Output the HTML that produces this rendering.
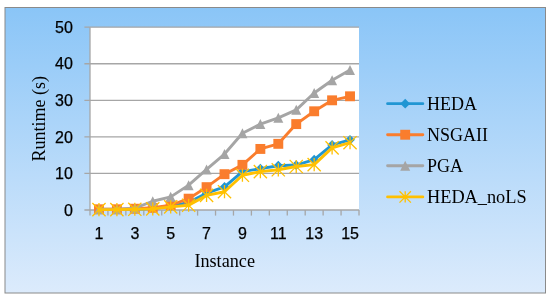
<!DOCTYPE html>
<html><head><meta charset="utf-8"><title>Runtime chart</title>
<style>
html,body{margin:0;padding:0;background:#fff;}
body{width:550px;height:300px;overflow:hidden;}
svg{display:block;}
.ax{font-family:"Liberation Sans",sans-serif;font-size:16px;fill:#000;stroke:#000;stroke-width:0.25px;}
.tt{font-family:"Liberation Serif",serif;font-size:18px;fill:#000;}
</style></head><body>
<svg width="550" height="300" viewBox="0 0 550 300">
<defs><linearGradient id="bg" x1="0" y1="0" x2="0" y2="1"><stop offset="0" stop-color="#8AC5F7"/><stop offset="1" stop-color="#DCEBFC"/></linearGradient></defs>
<rect width="550" height="300" fill="#fff"/>
<rect x="5" y="7.5" width="540.5" height="285.5" fill="url(#bg)" stroke="#8a8a8a" stroke-width="1"/>
<rect x="90.0" y="27.2" width="269.0" height="182.8" fill="#fff"/>
<line x1="84.4" y1="210.00" x2="359.0" y2="210.00" stroke="#A6A6A6" stroke-width="1.3"/>
<line x1="84.4" y1="173.44" x2="359.0" y2="173.44" stroke="#A6A6A6" stroke-width="1.3"/>
<line x1="84.4" y1="136.88" x2="359.0" y2="136.88" stroke="#A6A6A6" stroke-width="1.3"/>
<line x1="84.4" y1="100.32" x2="359.0" y2="100.32" stroke="#A6A6A6" stroke-width="1.3"/>
<line x1="84.4" y1="63.76" x2="359.0" y2="63.76" stroke="#A6A6A6" stroke-width="1.3"/>
<line x1="84.4" y1="27.20" x2="359.0" y2="27.20" stroke="#A6A6A6" stroke-width="1.3"/>
<line x1="90.0" y1="27.2" x2="90.0" y2="210.0" stroke="#A6A6A6" stroke-width="1.3"/>
<line x1="90.00" y1="210.0" x2="90.00" y2="215.6" stroke="#A6A6A6" stroke-width="1.3"/>
<line x1="107.93" y1="210.0" x2="107.93" y2="215.6" stroke="#A6A6A6" stroke-width="1.3"/>
<line x1="125.87" y1="210.0" x2="125.87" y2="215.6" stroke="#A6A6A6" stroke-width="1.3"/>
<line x1="143.80" y1="210.0" x2="143.80" y2="215.6" stroke="#A6A6A6" stroke-width="1.3"/>
<line x1="161.73" y1="210.0" x2="161.73" y2="215.6" stroke="#A6A6A6" stroke-width="1.3"/>
<line x1="179.67" y1="210.0" x2="179.67" y2="215.6" stroke="#A6A6A6" stroke-width="1.3"/>
<line x1="197.60" y1="210.0" x2="197.60" y2="215.6" stroke="#A6A6A6" stroke-width="1.3"/>
<line x1="215.53" y1="210.0" x2="215.53" y2="215.6" stroke="#A6A6A6" stroke-width="1.3"/>
<line x1="233.47" y1="210.0" x2="233.47" y2="215.6" stroke="#A6A6A6" stroke-width="1.3"/>
<line x1="251.40" y1="210.0" x2="251.40" y2="215.6" stroke="#A6A6A6" stroke-width="1.3"/>
<line x1="269.33" y1="210.0" x2="269.33" y2="215.6" stroke="#A6A6A6" stroke-width="1.3"/>
<line x1="287.27" y1="210.0" x2="287.27" y2="215.6" stroke="#A6A6A6" stroke-width="1.3"/>
<line x1="305.20" y1="210.0" x2="305.20" y2="215.6" stroke="#A6A6A6" stroke-width="1.3"/>
<line x1="323.13" y1="210.0" x2="323.13" y2="215.6" stroke="#A6A6A6" stroke-width="1.3"/>
<line x1="341.07" y1="210.0" x2="341.07" y2="215.6" stroke="#A6A6A6" stroke-width="1.3"/>
<line x1="359.00" y1="210.0" x2="359.00" y2="215.6" stroke="#A6A6A6" stroke-width="1.3"/>
<text x="72.8" y="215.70" text-anchor="end" class="ax">0</text>
<text x="72.8" y="179.14" text-anchor="end" class="ax">10</text>
<text x="72.8" y="142.58" text-anchor="end" class="ax">20</text>
<text x="72.8" y="106.02" text-anchor="end" class="ax">30</text>
<text x="72.8" y="69.46" text-anchor="end" class="ax">40</text>
<text x="72.8" y="32.90" text-anchor="end" class="ax">50</text>
<text x="98.97" y="238.7" text-anchor="middle" class="ax">1</text>
<text x="134.83" y="238.7" text-anchor="middle" class="ax">3</text>
<text x="170.70" y="238.7" text-anchor="middle" class="ax">5</text>
<text x="206.57" y="238.7" text-anchor="middle" class="ax">7</text>
<text x="242.43" y="238.7" text-anchor="middle" class="ax">9</text>
<text x="278.30" y="238.7" text-anchor="middle" class="ax">11</text>
<text x="314.17" y="238.7" text-anchor="middle" class="ax">13</text>
<text x="350.03" y="238.7" text-anchor="middle" class="ax">15</text>
<polyline points="98.97,209.63 116.90,209.63 134.83,209.27 152.77,208.54 170.70,206.34 188.63,202.32 206.57,193.18 224.50,186.97 242.43,171.61 260.37,168.69 278.30,165.76 296.23,165.03 314.17,159.73 332.10,144.92 350.03,139.80" fill="none" stroke="#2196D3" stroke-width="2.9" stroke-linejoin="round" stroke-linecap="round"/>
<path d="M94.07,209.63L98.97,204.73L103.87,209.63L98.97,214.53Z" fill="#2196D3"/>
<path d="M112.00,209.63L116.90,204.73L121.80,209.63L116.90,214.53Z" fill="#2196D3"/>
<path d="M129.93,209.27L134.83,204.37L139.73,209.27L134.83,214.17Z" fill="#2196D3"/>
<path d="M147.87,208.54L152.77,203.64L157.67,208.54L152.77,213.44Z" fill="#2196D3"/>
<path d="M165.80,206.34L170.70,201.44L175.60,206.34L170.70,211.24Z" fill="#2196D3"/>
<path d="M183.73,202.32L188.63,197.42L193.53,202.32L188.63,207.22Z" fill="#2196D3"/>
<path d="M201.67,193.18L206.57,188.28L211.47,193.18L206.57,198.08Z" fill="#2196D3"/>
<path d="M219.60,186.97L224.50,182.07L229.40,186.97L224.50,191.87Z" fill="#2196D3"/>
<path d="M237.53,171.61L242.43,166.71L247.33,171.61L242.43,176.51Z" fill="#2196D3"/>
<path d="M255.47,168.69L260.37,163.79L265.27,168.69L260.37,173.59Z" fill="#2196D3"/>
<path d="M273.40,165.76L278.30,160.86L283.20,165.76L278.30,170.66Z" fill="#2196D3"/>
<path d="M291.33,165.03L296.23,160.13L301.13,165.03L296.23,169.93Z" fill="#2196D3"/>
<path d="M309.27,159.73L314.17,154.83L319.07,159.73L314.17,164.63Z" fill="#2196D3"/>
<path d="M327.20,144.92L332.10,140.02L337.00,144.92L332.10,149.82Z" fill="#2196D3"/>
<path d="M345.13,139.80L350.03,134.90L354.93,139.80L350.03,144.70Z" fill="#2196D3"/>
<polyline points="98.97,209.27 116.90,209.27 134.83,208.72 152.77,207.81 170.70,205.25 188.63,198.67 206.57,187.15 224.50,174.17 242.43,164.85 260.37,148.94 278.30,143.83 296.23,124.08 314.17,111.29 332.10,100.32 350.03,96.30" fill="none" stroke="#FA7D2D" stroke-width="2.9" stroke-linejoin="round" stroke-linecap="round"/>
<rect x="94.02" y="204.32" width="9.9" height="9.9" fill="#FA7D2D"/>
<rect x="111.95" y="204.32" width="9.9" height="9.9" fill="#FA7D2D"/>
<rect x="129.88" y="203.77" width="9.9" height="9.9" fill="#FA7D2D"/>
<rect x="147.82" y="202.86" width="9.9" height="9.9" fill="#FA7D2D"/>
<rect x="165.75" y="200.30" width="9.9" height="9.9" fill="#FA7D2D"/>
<rect x="183.68" y="193.72" width="9.9" height="9.9" fill="#FA7D2D"/>
<rect x="201.62" y="182.20" width="9.9" height="9.9" fill="#FA7D2D"/>
<rect x="219.55" y="169.22" width="9.9" height="9.9" fill="#FA7D2D"/>
<rect x="237.48" y="159.90" width="9.9" height="9.9" fill="#FA7D2D"/>
<rect x="255.42" y="143.99" width="9.9" height="9.9" fill="#FA7D2D"/>
<rect x="273.35" y="138.88" width="9.9" height="9.9" fill="#FA7D2D"/>
<rect x="291.28" y="119.13" width="9.9" height="9.9" fill="#FA7D2D"/>
<rect x="309.22" y="106.34" width="9.9" height="9.9" fill="#FA7D2D"/>
<rect x="327.15" y="95.37" width="9.9" height="9.9" fill="#FA7D2D"/>
<rect x="345.08" y="91.35" width="9.9" height="9.9" fill="#FA7D2D"/>
<polyline points="98.97,209.27 116.90,209.27 134.83,208.17 152.77,201.23 170.70,196.84 188.63,185.14 206.57,169.42 224.50,154.06 242.43,133.22 260.37,124.08 278.30,117.87 296.23,109.83 314.17,93.01 332.10,80.21 350.03,69.98" fill="none" stroke="#A5A5A5" stroke-width="2.9" stroke-linejoin="round" stroke-linecap="round"/>
<path d="M98.97,204.27L103.97,214.27L93.97,214.27Z" fill="#A5A5A5"/>
<path d="M116.90,204.27L121.90,214.27L111.90,214.27Z" fill="#A5A5A5"/>
<path d="M134.83,203.17L139.83,213.17L129.83,213.17Z" fill="#A5A5A5"/>
<path d="M152.77,196.23L157.77,206.23L147.77,206.23Z" fill="#A5A5A5"/>
<path d="M170.70,191.84L175.70,201.84L165.70,201.84Z" fill="#A5A5A5"/>
<path d="M188.63,180.14L193.63,190.14L183.63,190.14Z" fill="#A5A5A5"/>
<path d="M206.57,164.42L211.57,174.42L201.57,174.42Z" fill="#A5A5A5"/>
<path d="M224.50,149.06L229.50,159.06L219.50,159.06Z" fill="#A5A5A5"/>
<path d="M242.43,128.22L247.43,138.22L237.43,138.22Z" fill="#A5A5A5"/>
<path d="M260.37,119.08L265.37,129.08L255.37,129.08Z" fill="#A5A5A5"/>
<path d="M278.30,112.87L283.30,122.87L273.30,122.87Z" fill="#A5A5A5"/>
<path d="M296.23,104.83L301.23,114.83L291.23,114.83Z" fill="#A5A5A5"/>
<path d="M314.17,88.01L319.17,98.01L309.17,98.01Z" fill="#A5A5A5"/>
<path d="M332.10,75.21L337.10,85.21L327.10,85.21Z" fill="#A5A5A5"/>
<path d="M350.03,64.98L355.03,74.98L345.03,74.98Z" fill="#A5A5A5"/>
<polyline points="98.97,209.63 116.90,209.63 134.83,209.27 152.77,208.90 170.70,206.89 188.63,205.25 206.57,195.38 224.50,191.72 242.43,175.27 260.37,171.61 278.30,169.78 296.23,166.49 314.17,164.67 332.10,147.85 350.03,142.73" fill="none" stroke="#FFC000" stroke-width="2.9" stroke-linejoin="round" stroke-linecap="round"/>
<path d="M92.37,203.03L105.57,216.23M92.37,216.23L105.57,203.03M98.97,203.03L98.97,216.23" stroke="#FFC000" stroke-width="1.3" fill="none"/>
<path d="M110.30,203.03L123.50,216.23M110.30,216.23L123.50,203.03M116.90,203.03L116.90,216.23" stroke="#FFC000" stroke-width="1.3" fill="none"/>
<path d="M128.23,202.67L141.43,215.87M128.23,215.87L141.43,202.67M134.83,202.67L134.83,215.87" stroke="#FFC000" stroke-width="1.3" fill="none"/>
<path d="M146.17,202.30L159.37,215.50M146.17,215.50L159.37,202.30M152.77,202.30L152.77,215.50" stroke="#FFC000" stroke-width="1.3" fill="none"/>
<path d="M164.10,200.29L177.30,213.49M164.10,213.49L177.30,200.29M170.70,200.29L170.70,213.49" stroke="#FFC000" stroke-width="1.3" fill="none"/>
<path d="M182.03,198.65L195.23,211.85M182.03,211.85L195.23,198.65M188.63,198.65L188.63,211.85" stroke="#FFC000" stroke-width="1.3" fill="none"/>
<path d="M199.97,188.78L213.17,201.98M199.97,201.98L213.17,188.78M206.57,188.78L206.57,201.98" stroke="#FFC000" stroke-width="1.3" fill="none"/>
<path d="M217.90,185.12L231.10,198.32M217.90,198.32L231.10,185.12M224.50,185.12L224.50,198.32" stroke="#FFC000" stroke-width="1.3" fill="none"/>
<path d="M235.83,168.67L249.03,181.87M235.83,181.87L249.03,168.67M242.43,168.67L242.43,181.87" stroke="#FFC000" stroke-width="1.3" fill="none"/>
<path d="M253.77,165.01L266.97,178.21M253.77,178.21L266.97,165.01M260.37,165.01L260.37,178.21" stroke="#FFC000" stroke-width="1.3" fill="none"/>
<path d="M271.70,163.18L284.90,176.38M271.70,176.38L284.90,163.18M278.30,163.18L278.30,176.38" stroke="#FFC000" stroke-width="1.3" fill="none"/>
<path d="M289.63,159.89L302.83,173.09M289.63,173.09L302.83,159.89M296.23,159.89L296.23,173.09" stroke="#FFC000" stroke-width="1.3" fill="none"/>
<path d="M307.57,158.07L320.77,171.27M307.57,171.27L320.77,158.07M314.17,158.07L314.17,171.27" stroke="#FFC000" stroke-width="1.3" fill="none"/>
<path d="M325.50,141.25L338.70,154.45M325.50,154.45L338.70,141.25M332.10,141.25L332.10,154.45" stroke="#FFC000" stroke-width="1.3" fill="none"/>
<path d="M343.43,136.13L356.63,149.33M343.43,149.33L356.63,136.13M350.03,136.13L350.03,149.33" stroke="#FFC000" stroke-width="1.3" fill="none"/>
<text x="194.4" y="267" textLength="60.6" lengthAdjust="spacingAndGlyphs" class="tt">Instance</text>
<text transform="translate(45,118.8) rotate(-90)" text-anchor="middle" class="tt">Runtime (s)</text>
<line x1="387.6" y1="103.65" x2="422.8" y2="103.65" stroke="#2196D3" stroke-width="2.9" stroke-linecap="round"/>
<path d="M400.30,103.65L405.20,98.75L410.10,103.65L405.20,108.55Z" fill="#2196D3"/>
<text x="427" y="109.55" class="tt">HEDA</text>
<line x1="387.6" y1="134.73" x2="422.8" y2="134.73" stroke="#FA7D2D" stroke-width="2.9" stroke-linecap="round"/>
<rect x="400.25" y="129.78" width="9.9" height="9.9" fill="#FA7D2D"/>
<text x="427" y="140.63" class="tt">NSGAII</text>
<line x1="387.6" y1="165.81" x2="422.8" y2="165.81" stroke="#A5A5A5" stroke-width="2.9" stroke-linecap="round"/>
<path d="M405.20,160.81L410.20,170.81L400.20,170.81Z" fill="#A5A5A5"/>
<text x="427" y="171.71" class="tt">PGA</text>
<line x1="387.6" y1="196.89" x2="422.8" y2="196.89" stroke="#FFC000" stroke-width="2.9" stroke-linecap="round"/>
<path d="M399.50,191.19L410.90,202.59M399.50,202.59L410.90,191.19M405.20,191.19L405.20,202.59" stroke="#FFC000" stroke-width="1.3" fill="none"/>
<text x="427" y="202.79" textLength="99.6" lengthAdjust="spacingAndGlyphs" class="tt">HEDA_noLS</text>
</svg>
</body></html>
